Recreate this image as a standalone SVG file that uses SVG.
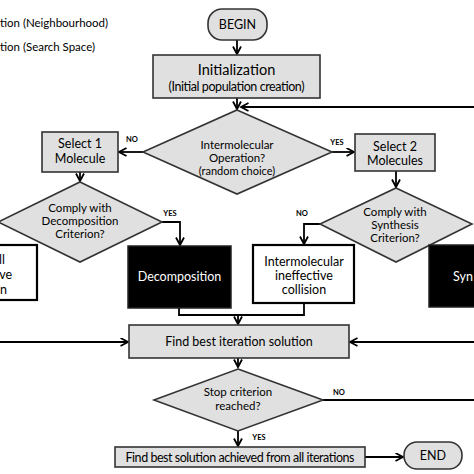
<svg xmlns="http://www.w3.org/2000/svg" width="474" height="474" viewBox="0 0 474 474">
<defs>
<marker id="arr" markerUnits="userSpaceOnUse" markerWidth="10" markerHeight="10" refX="8" refY="4.5" orient="auto">
<path d="M0.5,0.5 L8,4.5 L0.5,8.5" fill="none" stroke="#000" stroke-width="1.8"/>
</marker>
<style>
text{font-family:Lato,"Open Sans","Liberation Sans",sans-serif;fill:#000;text-anchor:middle}
.gray{fill:#e0e0e0;stroke:#333;stroke-width:1.6}
.blk{fill:#000;stroke:#222;stroke-width:1.5}
.wht{fill:#fff;stroke:#000;stroke-width:2.2}
.t12{font-size:12.5px}
.t115{font-size:11.5px}
.t11{font-size:11px}
.t14{font-size:14.5px}
.lab{font-size:7.5px;font-weight:bold}
.con{fill:none;stroke:#000;stroke-width:1.8}
.w{fill:#fff}
</style>
</defs>
<rect width="474" height="474" fill="#fff"/>

<g id="legend">
<text x="0" y="27" class="t115" style="text-anchor:start" textLength="108">tion (Neighbourhood)</text>
<text x="0" y="51" class="t115" style="text-anchor:start" textLength="95">tion (Search Space)</text>
</g>

<g id="connectors">
<path class="con" d="M237,40 V54" marker-end="url(#arr)"/>
<path class="con" d="M237,98 V109" marker-end="url(#arr)"/>
<path class="con" d="M474,107 H241" marker-end="url(#arr)"/>
<path class="con" d="M143,152 H119" marker-end="url(#arr)"/>
<path class="con" d="M332,152 H354" marker-end="url(#arr)"/>
<path class="con" d="M80,172 V181" marker-end="url(#arr)"/>
<path class="con" d="M396,171 V187" marker-end="url(#arr)"/>
<path class="con" d="M162,222 H180 V245" marker-end="url(#arr)"/>
<path class="con" d="M320,224 H304 V244" marker-end="url(#arr)"/>
<path class="con" d="M179,308 V315 H304 V303"/>
<path class="con" d="M238,315 V324" marker-end="url(#arr)"/>
<path class="con" d="M0,342 H128" marker-end="url(#arr)"/>
<path class="con" d="M474,342 H350" marker-end="url(#arr)"/>
<path class="con" d="M238,358 V367" marker-end="url(#arr)"/>
<path class="con" d="M323,400 H474"/>
<path class="con" d="M238,431 V446" marker-end="url(#arr)"/>
<path class="con" d="M365,457 H403" marker-end="url(#arr)"/>
<text x="132" y="142" class="lab">NO</text>
<text x="337" y="145" class="lab">YES</text>
<text x="170" y="216" class="lab">YES</text>
<text x="302" y="216" class="lab">NO</text>
<text x="339" y="395" class="lab">NO</text>
<text x="259" y="440" class="lab">YES</text>
</g>

<g id="begin">
<rect x="208" y="9" width="59" height="31" rx="14" class="gray"/>
<text x="237.5" y="29" class="t12">BEGIN</text>
</g>

<g id="init">
<rect x="153" y="55" width="167" height="43" class="gray"/>
<text x="236.5" y="75" class="t14">Initialization</text>
<text x="236.5" y="91" class="t12" textLength="136">(Initial population creation)</text>
</g>

<g id="op">
<polygon points="237,110 332,152 237,194 143,152" class="gray"/>
<text x="237" y="149" class="t115">Intermolecular</text>
<text x="237" y="162" class="t115">Operation?</text>
<text x="237" y="175" class="t11">(random choice)</text>
</g>

<g id="sel1">
<rect x="42" y="132" width="76" height="40" class="gray"/>
<text x="80" y="148" class="t12">Select 1</text>
<text x="80" y="163" class="t12">Molecule</text>
</g>

<g id="sel2">
<rect x="355" y="134" width="80" height="37" class="gray"/>
<text x="395" y="151" class="t12">Select 2</text>
<text x="395" y="165" class="t12">Molecules</text>
</g>

<g id="decompCrit">
<polygon points="80,182 162,222 80,262 -2,222" class="gray"/>
<text x="80" y="212" class="t115">Comply with</text>
<text x="80" y="225" class="t115">Decomposition</text>
<text x="80" y="238" class="t115">Criterion?</text>
</g>

<g id="synthCrit">
<polygon points="396,188 472,224 396,262 320,224" class="gray"/>
<text x="395" y="216" class="t115">Comply with</text>
<text x="395" y="229" class="t115">Synthesis</text>
<text x="395" y="242" class="t115">Criterion?</text>
</g>

<g id="onwall">
<rect x="-70" y="245" width="107" height="55" class="wht"/>
<text x="5" y="264" class="t12" style="text-anchor:end">ll</text>
<text x="12" y="279" class="t12" style="text-anchor:end">ve</text>
<text x="7" y="294" class="t12" style="text-anchor:end">n</text>
</g>

<g id="decomp">
<rect x="128" y="246" width="103" height="62" class="blk"/>
<text x="179.5" y="281" class="t12 w">Decomposition</text>
</g>

<g id="interIneff">
<rect x="253" y="245" width="101" height="58" class="wht"/>
<text x="304" y="266" class="t12">Intermolecular</text>
<text x="304" y="280" class="t12">ineffective</text>
<text x="304" y="294" class="t12">collision</text>
</g>

<g id="synth">
<rect x="429" y="245" width="60" height="62" class="blk"/>
<text x="453" y="281" class="t12 w" style="text-anchor:start">Syn</text>
</g>

<g id="bestIter">
<rect x="129" y="325" width="220" height="33" class="gray"/>
<text x="239" y="346" class="t12">Find best iteration solution</text>
</g>

<g id="stop">
<polygon points="238,369 323,400 238,431 154,400" class="gray"/>
<text x="238" y="396" class="t115">Stop criterion</text>
<text x="238" y="409.5" class="t115">reached?</text>
</g>

<g id="bestAll">
<rect x="115" y="447" width="250" height="20" class="gray"/>
<text x="240" y="461.5" class="t12" textLength="229">Find best solution achieved from all iterations</text>
</g>

<g id="end">
<rect x="404" y="442" width="58" height="27" rx="13" class="gray"/>
<text x="433" y="460" class="t12">END</text>
</g>
</svg>
